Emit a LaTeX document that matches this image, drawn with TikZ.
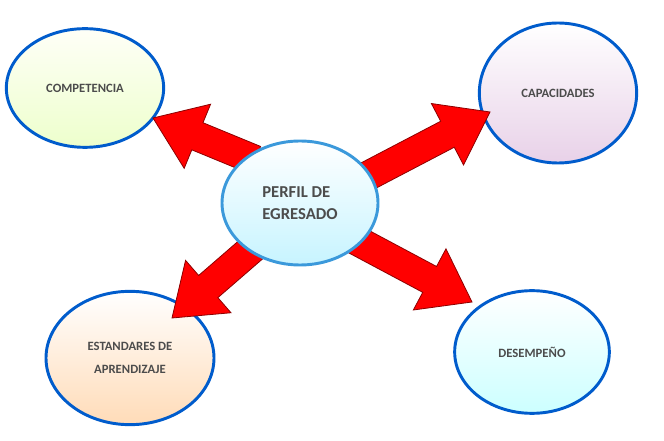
\documentclass[tikz,border=0pt]{standalone}
\usepackage{fontspec}
\setmainfont{Carlito}
\usetikzlibrary{calc,shapes.geometric}
\newcommand\bigarrow[2]{%
  \coordinate (h) at ($(#2)!36pt!(#1)$);
  \filldraw[arrowst] ($(#1)!11pt!90:(#2)$) -- ($(h)!11pt!90:(#2)$) -- ($(h)!26pt!90:(#2)$) -- (#2)
   -- ($(h)!26pt!-90:(#2)$) -- ($(h)!11pt!-90:(#2)$) -- ($(#1)!11pt!-90:(#2)$) -- cycle;}
\begin{document}
\begin{tikzpicture}[x=0.75pt,y=-0.75pt,
  bubble/.style={ellipse,draw=blue!55!cyan!80!black,line width=2.2pt,font=\bfseries\fontsize{9.5}{11}\selectfont,text=black!70,align=center,inner sep=0pt},
  arrowst/.style={fill=red,draw=red!55!black,line width=0.6pt}]
\useasboundingbox (0,0) rectangle (664,441);
\fill[white] (0,0) rectangle (664,441);
\node[bubble,minimum width=118pt,minimum height=89pt,top color=green!5!yellow!3,bottom color=green!35!yellow!20!white] (comp) at (85,88) {COMPETENCIA};
\node[bubble,minimum width=118pt,minimum height=105pt,top color=white,bottom color=violet!18] (cap) at (558,93) {CAPACIDADES};
\node[bubble,minimum width=126pt,minimum height=100pt,top color=white,bottom color=orange!28] (est) at (130,358) {ESTANDARES DE\\[6pt]APRENDIZAJE};
\node[bubble,minimum width=116pt,minimum height=92pt,top color=white,bottom color=cyan!20] (des) at (532,352) {DESEMPEÑO};
\coordinate (s1) at (255,160); \coordinate (t1) at (153,118);
\coordinate (s2) at (360,180); \coordinate (t2) at (490,112);
\coordinate (s3) at (262,240); \coordinate (t3) at (172,318);
\coordinate (s4) at (352,238); \coordinate (t4) at (472,302);
\bigarrow{s1}{t1}\bigarrow{s2}{t2}\bigarrow{s3}{t3}\bigarrow{s4}{t4}
\node[bubble,draw=cyan!70!blue!80,minimum width=117pt,minimum height=93pt,top color=white,bottom color=blue!20!cyan!22,font=\bfseries\fontsize{12.5}{15}\selectfont,align=left] (pe) at (300,203) {PERFIL DE\\[2pt]EGRESADO};
\end{tikzpicture}
\end{document}
